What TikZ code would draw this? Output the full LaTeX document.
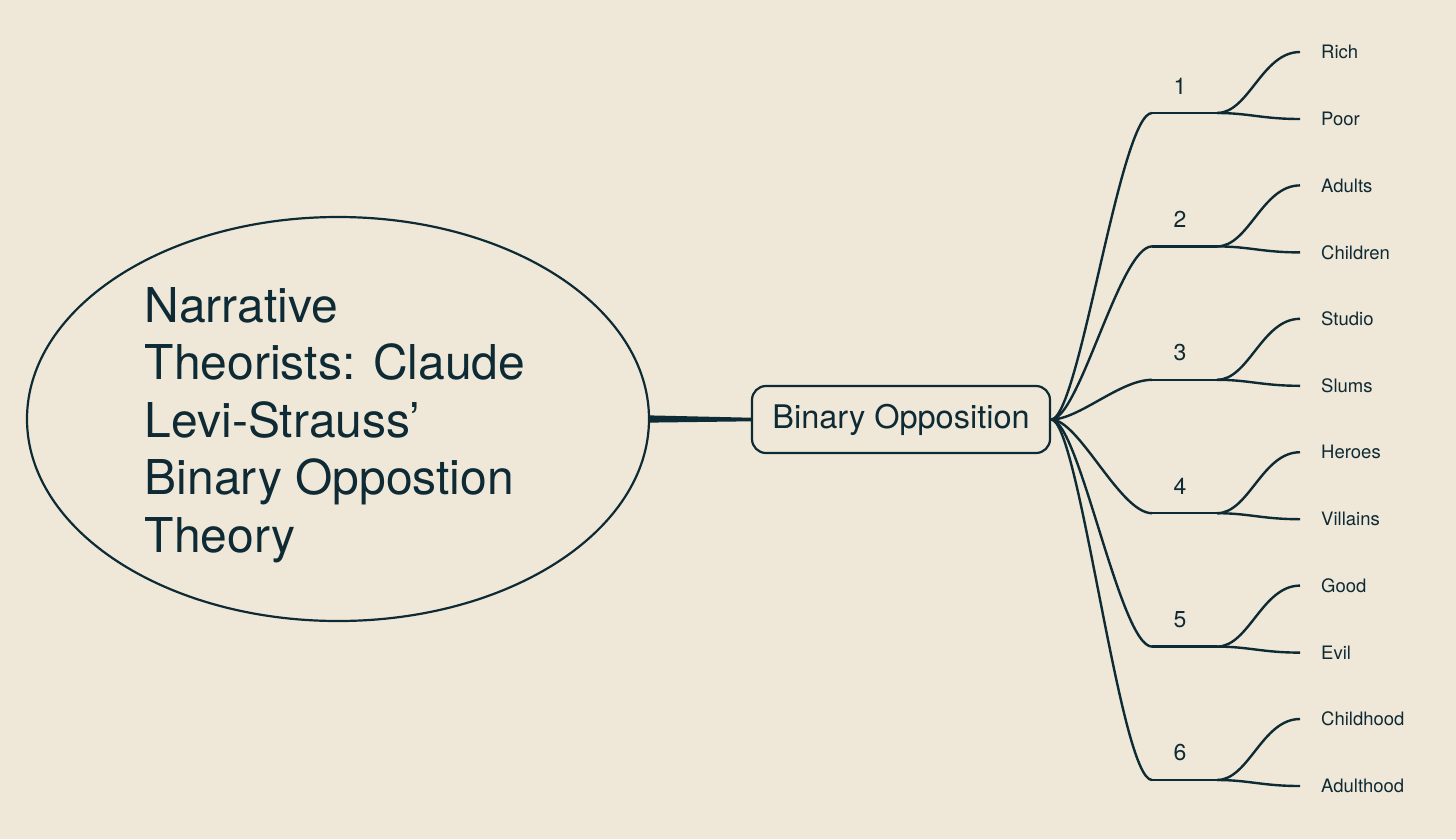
\documentclass[tikz,border=0pt]{standalone}
\usepackage{fontspec}
\setmainfont{TeX Gyre Heros}
\usetikzlibrary{shapes.geometric}
\definecolor{bg}{RGB}{239,232,216}
\definecolor{ink}{RGB}{14,42,52}
\begin{document}
\begin{tikzpicture}[x=1pt,y=-1pt,
  branch/.style={draw=ink, line width=2.4pt},
  leaf/.style={anchor=west, inner xsep=21pt, inner ysep=0pt, text=ink, font=\fontsize{18.5}{22}\selectfont},
  num/.style={inner sep=0pt, text=ink, font=\fontsize{23}{27}\selectfont},
  topic/.style={draw=ink, line width=2.2pt, rounded corners=14pt, minimum width=298pt, minimum height=67pt, inner sep=0pt, text=ink, font=\fontsize{32.5}{38}\selectfont},
  central/.style={ellipse, draw=ink, line width=2.2pt, minimum width=622pt, minimum height=404pt, inner sep=0pt}
]
\fill[bg] (0,0) rectangle (1456,839);
\useasboundingbox (0,0) rectangle (1456,839);

\node[central] (main) at (338,419) {};
\node[text=ink, align=left, inner sep=0pt, font=\fontsize{48}{57.5}\selectfont] (title) at (335,425)
  {Narrative\\Theorists: Claude\\Levi-Strauss’\\Binary Oppostion\\Theory};

\node[topic] (box) at (901,419.5) {Binary Opposition};

\fill[ink] ([yshift=-3.6pt]main.east) -- ([yshift=-1.8pt]box.west)
  -- ([yshift=1.8pt]box.west) -- ([yshift=3.6pt]main.east) -- cycle;

\foreach \k/\up/\dn in {1/Rich/Poor, 2/Adults/Children, 3/Studio/Slums, 4/Heroes/Villains, 5/Good/Evil, 6/Childhood/Adulthood} {
  \pgfmathsetmacro\yy{113+(\k-1)*133.4}
  \coordinate (j\k) at (1152,\yy);
  \coordinate (s\k) at (1217,\yy);
  \node[leaf] (u\k) at (1300,\yy-61) {\up};
  \node[leaf] (d\k) at (1300,\yy+6) {\dn};
  \node[num] (n\k) at (1180,\yy-27) {\k};
  \draw[branch] (box.east) .. controls +(28,0) and +(-32,0) .. (j\k);
  \draw[branch] (j\k) -- (s\k);
  \draw[branch] (s\k) .. controls +(32,0) and +(-38,0) .. (u\k.west);
  \draw[branch] (s\k) .. controls +(32,0) and +(-38,0) .. (d\k.west);
}
\end{tikzpicture}
\end{document}
